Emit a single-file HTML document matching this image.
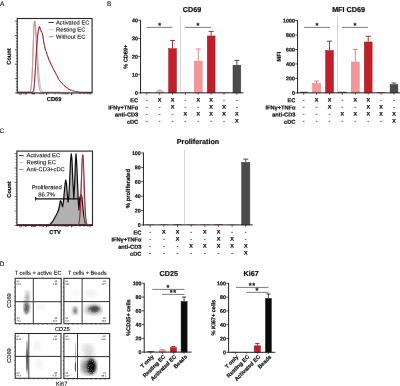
<!DOCTYPE html>
<html><head><meta charset="utf-8"><title>Figure</title>
<style>
html,body{margin:0;padding:0;background:#fff;}
body{width:400px;height:386px;overflow:hidden;}
svg{display:block;text-rendering:geometricPrecision;font-family:'Liberation Sans', sans-serif;}
.b{stroke:#141414;stroke-width:0.22px;}
.n{stroke:#141414;stroke-width:0.12px;}
</style></head><body>
<svg width="400" height="386" viewBox="0 0 400 386">
<rect width="400" height="386" fill="#fff"/>
<text x="0" y="5.9" font-size="6.4" fill="#141414" class="n" transform="rotate(0.03 0 5.9)">A</text>
<text x="107" y="5.9" font-size="6.4" fill="#141414" class="n" transform="rotate(0.03 107 5.9)">B</text>
<text x="-0.6" y="133.1" font-size="6.4" fill="#141414" class="n" transform="rotate(0.03 -0.6 133.1)">C</text>
<text x="-0.3" y="266" font-size="6.4" fill="#141414" class="n" transform="rotate(0.03 -0.3 266)">D</text>
<path d="M18,92.3 L28.02,92.3 L28.32,92.29 L28.62,92.28 L28.93,92.26 L29.23,92.22 L29.53,92.12 L29.83,91.95 L30.13,91.62 L30.43,91.05 L30.73,90.1 L31.03,88.59 L31.33,86.29 L31.63,82.98 L31.93,78.45 L32.23,72.59 L32.53,65.41 L32.83,57.16 L33.12,48.31 L33.42,39.53 L33.72,31.66 L34.02,25.52 L34.32,21.85 L34.62,21.05 L34.92,22.24 L35.22,24.94 L35.52,28.98 L35.82,34.1 L36.12,39.99 L36.42,46.33 L36.72,52.81 L37.02,59.12 L37.32,65.04 L37.62,70.41 L37.92,75.11 L38.22,79.1 L38.52,82.39 L38.82,85.02 L39.12,87.08 L39.42,88.63 L39.72,89.78 L40.02,90.61 L40.32,91.19 L40.62,91.59 L40.92,91.85 L41.22,92.03 L41.52,92.14 L41.82,92.2 L42.12,92.24 L42.42,92.27 L42.72,92.28 L43.02,92.29 L43.32,92.3 L60,92.3" fill="none" stroke="#7d7d7d" stroke-width="0.75" stroke-linejoin="round"/>
<path d="M18,92.3 L27.85,92.3 L28.15,92.29 L28.45,92.28 L28.75,92.26 L29.05,92.22 L29.35,92.14 L29.65,91.99 L29.95,91.71 L30.25,91.23 L30.55,90.43 L30.85,89.16 L31.15,87.22 L31.45,84.42 L31.75,80.54 L32.05,75.44 L32.35,69.09 L32.65,61.59 L32.95,53.26 L33.25,44.61 L33.55,36.34 L33.85,29.2 L34.15,23.95 L34.45,21.16 L34.75,20.92 L35.05,21.84 L35.35,23.66 L35.65,26.3 L35.95,29.66 L36.25,33.62 L36.55,38.04 L36.85,42.78 L37.15,47.69 L37.45,52.64 L37.75,57.5 L38.05,62.15 L38.35,66.53 L38.65,70.55 L38.95,74.19 L39.25,77.41 L39.55,80.22 L39.85,82.62 L40.15,84.65 L40.45,86.33 L40.75,87.7 L41.05,88.81 L41.35,89.68 L41.65,90.36 L41.95,90.88 L42.25,91.28 L42.55,91.57 L42.85,91.79 L43.15,91.94 L43.45,92.06 L43.75,92.14 L44.05,92.19 L44.35,92.23 L44.65,92.25 L44.95,92.27 L45.25,92.28 L45.55,92.29 L45.85,92.29 L46.15,92.3 L70,92.3" fill="none" stroke="#ea8a8e" stroke-width="0.8" stroke-linejoin="round"/>
<path d="M18,92.3 L32.5,92.3 L33.8,90.5 L34.7,80 L35.6,65 L36.6,48 L37.8,34 L39,27.3 L39.6,26.4 L40.3,29.5 L41,31 L41.6,32.2 L42.3,32.8 L42.9,36 L43.6,41 L44.4,45.5 L45,48 L45.5,50.5 L46.3,51.5 L47,54.5 L48,57 L49,60 L50,62 L51,64.5 L52,66 L53,68.3 L53.7,69.69 L54.5,71 L55.22,72.6 L56,74 L57.03,75.6 L58,78 L58.9,79.76 L60,81 L60.95,82.03 L62,83.4 L63.1,84.43 L64,85.5 L65.07,86.34 L66,87.2 L67.03,87.76 L68,88.6 L69.03,89.33 L70,89.8 L70.75,90.15 L71.53,90.22 L72.3,90.65 L73,90.9 L73.71,90.98 L74.57,91.29 L75.29,91.6 L76,91.7 L80,92.3 L92,92.3" fill="none" stroke="#c4333f" stroke-width="0.95" stroke-linejoin="round"/>
<path d="M18,92.3 L32.5,92.3 L33.8,90.5 L34.7,80 L35.6,65 L36.6,48 L37.8,34 L39,27.3 L39.6,26.4 L40.3,29.5 L41,31 L41.6,32.2 L42.3,32.8 L42.9,36 L43.6,41 L44.4,45.5 L45,48 L45.5,50.5 L46.3,51.5 L47,54.5 L48,57 L49,60 L50,62 L51,64.5 L52,66 L53,68.3 L53.7,69.69 L54.5,71 L55.22,72.6 L56,74 L57.03,75.6 L58,78 L58.9,79.76 L60,81 L60.95,82.03 L62,83.4 L63.1,84.43 L64,85.5 L65.07,86.34 L66,87.2 L67.03,87.76 L68,88.6 L69.03,89.33 L70,89.8 L70.75,90.15 L71.53,90.22 L72.3,90.65 L73,90.9 L73.71,90.98 L74.57,91.29 L75.29,91.6 L76,91.7 L80,92.3 L92,92.3" fill="none" stroke="#740d19" stroke-width="0.45" stroke-linejoin="round"/>
<rect x="17.25" y="18.5" width="74.85" height="74.45" fill="none" stroke="#2a2a2a" stroke-width="1.15"/>
<line x1="14.95" y1="92.95" x2="17.25" y2="92.95" stroke="#222" stroke-width="0.7"/>
<line x1="15.85" y1="90.08" x2="17.25" y2="90.08" stroke="#222" stroke-width="0.55"/>
<line x1="15.85" y1="87.21" x2="17.25" y2="87.21" stroke="#222" stroke-width="0.55"/>
<line x1="15.85" y1="84.34" x2="17.25" y2="84.34" stroke="#222" stroke-width="0.55"/>
<line x1="15.85" y1="81.47" x2="17.25" y2="81.47" stroke="#222" stroke-width="0.55"/>
<line x1="14.95" y1="78.6" x2="17.25" y2="78.6" stroke="#222" stroke-width="0.7"/>
<line x1="15.85" y1="75.73" x2="17.25" y2="75.73" stroke="#222" stroke-width="0.55"/>
<line x1="15.85" y1="72.86" x2="17.25" y2="72.86" stroke="#222" stroke-width="0.55"/>
<line x1="15.85" y1="69.99" x2="17.25" y2="69.99" stroke="#222" stroke-width="0.55"/>
<line x1="15.85" y1="67.12" x2="17.25" y2="67.12" stroke="#222" stroke-width="0.55"/>
<line x1="14.95" y1="64.25" x2="17.25" y2="64.25" stroke="#222" stroke-width="0.7"/>
<line x1="15.85" y1="61.38" x2="17.25" y2="61.38" stroke="#222" stroke-width="0.55"/>
<line x1="15.85" y1="58.51" x2="17.25" y2="58.51" stroke="#222" stroke-width="0.55"/>
<line x1="15.85" y1="55.64" x2="17.25" y2="55.64" stroke="#222" stroke-width="0.55"/>
<line x1="15.85" y1="52.77" x2="17.25" y2="52.77" stroke="#222" stroke-width="0.55"/>
<line x1="14.95" y1="49.9" x2="17.25" y2="49.9" stroke="#222" stroke-width="0.7"/>
<line x1="15.85" y1="47.03" x2="17.25" y2="47.03" stroke="#222" stroke-width="0.55"/>
<line x1="15.85" y1="44.16" x2="17.25" y2="44.16" stroke="#222" stroke-width="0.55"/>
<line x1="15.85" y1="41.29" x2="17.25" y2="41.29" stroke="#222" stroke-width="0.55"/>
<line x1="15.85" y1="38.42" x2="17.25" y2="38.42" stroke="#222" stroke-width="0.55"/>
<line x1="14.95" y1="35.55" x2="17.25" y2="35.55" stroke="#222" stroke-width="0.7"/>
<line x1="15.85" y1="32.68" x2="17.25" y2="32.68" stroke="#222" stroke-width="0.55"/>
<line x1="15.85" y1="29.81" x2="17.25" y2="29.81" stroke="#222" stroke-width="0.55"/>
<line x1="15.85" y1="26.94" x2="17.25" y2="26.94" stroke="#222" stroke-width="0.55"/>
<line x1="15.85" y1="24.07" x2="17.25" y2="24.07" stroke="#222" stroke-width="0.55"/>
<line x1="14.95" y1="21.2" x2="17.25" y2="21.2" stroke="#222" stroke-width="0.7"/>
<line x1="21.5" y1="92.95" x2="21.5" y2="94.45" stroke="#222" stroke-width="0.6"/>
<line x1="24" y1="92.95" x2="24" y2="94.45" stroke="#222" stroke-width="0.6"/>
<line x1="25.5" y1="92.95" x2="25.5" y2="94.45" stroke="#222" stroke-width="0.6"/>
<line x1="26.5" y1="92.95" x2="26.5" y2="94.45" stroke="#222" stroke-width="0.6"/>
<line x1="40" y1="92.95" x2="40" y2="94.45" stroke="#222" stroke-width="0.6"/>
<line x1="42" y1="92.95" x2="42" y2="94.45" stroke="#222" stroke-width="0.6"/>
<line x1="43.5" y1="92.95" x2="43.5" y2="94.45" stroke="#222" stroke-width="0.6"/>
<line x1="48" y1="92.95" x2="48" y2="94.45" stroke="#222" stroke-width="0.6"/>
<line x1="55" y1="92.95" x2="55" y2="94.45" stroke="#222" stroke-width="0.6"/>
<line x1="59" y1="92.95" x2="59" y2="94.45" stroke="#222" stroke-width="0.6"/>
<line x1="62" y1="92.95" x2="62" y2="94.45" stroke="#222" stroke-width="0.6"/>
<line x1="64" y1="92.95" x2="64" y2="94.45" stroke="#222" stroke-width="0.6"/>
<line x1="65.5" y1="92.95" x2="65.5" y2="94.45" stroke="#222" stroke-width="0.6"/>
<line x1="67" y1="92.95" x2="67" y2="94.45" stroke="#222" stroke-width="0.6"/>
<line x1="68" y1="92.95" x2="68" y2="94.45" stroke="#222" stroke-width="0.6"/>
<line x1="73" y1="92.95" x2="73" y2="94.45" stroke="#222" stroke-width="0.6"/>
<line x1="80" y1="92.95" x2="80" y2="94.45" stroke="#222" stroke-width="0.6"/>
<line x1="84" y1="92.95" x2="84" y2="94.45" stroke="#222" stroke-width="0.6"/>
<line x1="87" y1="92.95" x2="87" y2="94.45" stroke="#222" stroke-width="0.6"/>
<line x1="89" y1="92.95" x2="89" y2="94.45" stroke="#222" stroke-width="0.6"/>
<line x1="90.5" y1="92.95" x2="90.5" y2="94.45" stroke="#222" stroke-width="0.6"/>
<line x1="20" y1="92.95" x2="20" y2="94.95" stroke="#222" stroke-width="0.8"/>
<line x1="46.5" y1="92.95" x2="46.5" y2="94.95" stroke="#222" stroke-width="0.8"/>
<line x1="71.5" y1="92.95" x2="71.5" y2="94.95" stroke="#222" stroke-width="0.8"/>
<line x1="31.5" y1="93.7" x2="35" y2="93.7" stroke="#222" stroke-width="1.1"/>
<line x1="48.6" y1="22.5" x2="53.8" y2="22.5" stroke="#c0303c" stroke-width="1.0"/>
<line x1="48.8" y1="22.5" x2="53.6" y2="22.5" stroke="#6e0c18" stroke-width="0.6"/>
<text x="56" y="24.5" font-size="5.8" fill="#141414" class="n" transform="rotate(0.03 56 24.5)">Activated EC</text>
<line x1="48.8" y1="29.6" x2="53.6" y2="29.6" stroke="#eda0a3" stroke-width="0.7"/>
<text x="56" y="31.6" font-size="5.8" fill="#141414" class="n" transform="rotate(0.03 56 31.6)">Resting EC</text>
<line x1="48.8" y1="36.7" x2="53.6" y2="36.7" stroke="#666" stroke-width="0.7"/>
<text x="56" y="38.7" font-size="5.8" fill="#141414" class="n" transform="rotate(0.03 56 38.7)">Without EC</text>
<text x="46.8" y="101.1" font-size="5.7" font-weight="bold" fill="#141414" class="b" transform="rotate(0.03 46.8 101.1)">CD69</text>
<text x="10.8" y="56.5" font-size="5.7" font-weight="bold" text-anchor="middle" fill="#141414" class="b" transform="rotate(-89.97 10.8 56.5)">Count</text>
<line x1="180.5" y1="16.5" x2="180.5" y2="92.85" stroke="#d0d0d0" stroke-width="0.9"/>
<rect x="142.65" y="92.49" width="8.3" height="0.36" fill="#4b4b4d"/>
<line x1="159.67" y1="91.4" x2="159.67" y2="90.31" stroke="#e7777e" stroke-width="0.9"/>
<line x1="157.17" y1="90.31" x2="162.17" y2="90.31" stroke="#e7777e" stroke-width="0.9"/>
<rect x="155.52" y="91.4" width="8.3" height="1.45" fill="#f3979b"/>
<line x1="172.54" y1="48.41" x2="172.54" y2="40.43" stroke="#a5151e" stroke-width="0.9"/>
<line x1="170.04" y1="40.43" x2="175.04" y2="40.43" stroke="#a5151e" stroke-width="0.9"/>
<rect x="168.64" y="48.66" width="7.8" height="44.19" fill="#c1202a" stroke="#a5151e" stroke-width="0.5"/>
<rect x="181.26" y="92.49" width="8.3" height="0.36" fill="#4b4b4d"/>
<line x1="198.28" y1="60.93" x2="198.28" y2="48.96" stroke="#e7777e" stroke-width="0.9"/>
<line x1="195.78" y1="48.96" x2="200.78" y2="48.96" stroke="#e7777e" stroke-width="0.9"/>
<rect x="194.38" y="61.18" width="7.8" height="31.67" fill="#f3979b" stroke="#e7777e" stroke-width="0.5"/>
<line x1="211.15" y1="35.72" x2="211.15" y2="31.36" stroke="#a5151e" stroke-width="0.9"/>
<line x1="208.65" y1="31.36" x2="213.65" y2="31.36" stroke="#a5151e" stroke-width="0.9"/>
<rect x="207.25" y="35.97" width="7.8" height="56.88" fill="#c1202a" stroke="#a5151e" stroke-width="0.5"/>
<rect x="219.87" y="92.4" width="8.3" height="0.45" fill="#c1202a"/>
<line x1="236.89" y1="64.92" x2="236.89" y2="60.38" stroke="#3a3a3c" stroke-width="0.9"/>
<line x1="234.39" y1="60.38" x2="239.39" y2="60.38" stroke="#3a3a3c" stroke-width="0.9"/>
<rect x="232.99" y="65.17" width="7.8" height="27.68" fill="#4b4b4d" stroke="#3a3a3c" stroke-width="0.5"/>
<line x1="140.55" y1="19.9" x2="140.55" y2="93.35" stroke="#222" stroke-width="1.0"/>
<line x1="140.05" y1="92.85" x2="243.5" y2="92.85" stroke="#222" stroke-width="1.0"/>
<line x1="138.35" y1="92.85" x2="140.55" y2="92.85" stroke="#222" stroke-width="0.8"/>
<text x="137.85" y="94.8" font-size="5.3" font-weight="bold" text-anchor="end" fill="#141414" class="b" transform="rotate(0.03 137.85 94.8)">0</text>
<line x1="138.35" y1="74.71" x2="140.55" y2="74.71" stroke="#222" stroke-width="0.8"/>
<text x="137.85" y="76.66" font-size="5.3" font-weight="bold" text-anchor="end" fill="#141414" class="b" transform="rotate(0.03 137.85 76.66)">10</text>
<line x1="138.35" y1="56.57" x2="140.55" y2="56.57" stroke="#222" stroke-width="0.8"/>
<text x="137.85" y="58.52" font-size="5.3" font-weight="bold" text-anchor="end" fill="#141414" class="b" transform="rotate(0.03 137.85 58.52)">20</text>
<line x1="138.35" y1="38.44" x2="140.55" y2="38.44" stroke="#222" stroke-width="0.8"/>
<text x="137.85" y="40.39" font-size="5.3" font-weight="bold" text-anchor="end" fill="#141414" class="b" transform="rotate(0.03 137.85 40.39)">30</text>
<line x1="138.35" y1="20.3" x2="140.55" y2="20.3" stroke="#222" stroke-width="0.8"/>
<text x="137.85" y="22.25" font-size="5.3" font-weight="bold" text-anchor="end" fill="#141414" class="b" transform="rotate(0.03 137.85 22.25)">40</text>
<line x1="146.8" y1="92.85" x2="146.8" y2="94.75" stroke="#222" stroke-width="0.7"/>
<line x1="159.67" y1="92.85" x2="159.67" y2="94.75" stroke="#222" stroke-width="0.7"/>
<line x1="172.54" y1="92.85" x2="172.54" y2="94.75" stroke="#222" stroke-width="0.7"/>
<line x1="185.41" y1="92.85" x2="185.41" y2="94.75" stroke="#222" stroke-width="0.7"/>
<line x1="198.28" y1="92.85" x2="198.28" y2="94.75" stroke="#222" stroke-width="0.7"/>
<line x1="211.15" y1="92.85" x2="211.15" y2="94.75" stroke="#222" stroke-width="0.7"/>
<line x1="224.02" y1="92.85" x2="224.02" y2="94.75" stroke="#222" stroke-width="0.7"/>
<line x1="236.89" y1="92.85" x2="236.89" y2="94.75" stroke="#222" stroke-width="0.7"/>
<text x="138.2" y="102.35" font-size="5.65" font-weight="bold" text-anchor="end" fill="#141414" class="b" transform="rotate(0.03 138.2 102.35)">EC</text>
<line x1="146" y1="100.35" x2="147.6" y2="100.35" stroke="#222" stroke-width="0.7"/>
<text x="159.67" y="101.65" font-size="5.4" font-weight="bold" text-anchor="middle" fill="#141414" class="b" transform="rotate(0.03 159.67 101.65)">X</text>
<text x="172.54" y="101.65" font-size="5.4" font-weight="bold" text-anchor="middle" fill="#141414" class="b" transform="rotate(0.03 172.54 101.65)">X</text>
<line x1="184.61" y1="100.35" x2="186.21" y2="100.35" stroke="#222" stroke-width="0.7"/>
<text x="198.28" y="101.65" font-size="5.4" font-weight="bold" text-anchor="middle" fill="#141414" class="b" transform="rotate(0.03 198.28 101.65)">X</text>
<text x="211.15" y="101.65" font-size="5.4" font-weight="bold" text-anchor="middle" fill="#141414" class="b" transform="rotate(0.03 211.15 101.65)">X</text>
<line x1="223.22" y1="100.35" x2="224.82" y2="100.35" stroke="#222" stroke-width="0.7"/>
<line x1="236.09" y1="100.35" x2="237.69" y2="100.35" stroke="#222" stroke-width="0.7"/>
<text x="138.2" y="109.45" font-size="5.65" font-weight="bold" text-anchor="end" fill="#141414" class="b" transform="rotate(0.03 138.2 109.45)">IFNγ+TNFα</text>
<line x1="146" y1="107.35" x2="147.6" y2="107.35" stroke="#222" stroke-width="0.7"/>
<line x1="158.87" y1="107.35" x2="160.47" y2="107.35" stroke="#222" stroke-width="0.7"/>
<text x="172.54" y="108.65" font-size="5.4" font-weight="bold" text-anchor="middle" fill="#141414" class="b" transform="rotate(0.03 172.54 108.65)">X</text>
<line x1="184.61" y1="107.35" x2="186.21" y2="107.35" stroke="#222" stroke-width="0.7"/>
<line x1="197.48" y1="107.35" x2="199.08" y2="107.35" stroke="#222" stroke-width="0.7"/>
<text x="211.15" y="108.65" font-size="5.4" font-weight="bold" text-anchor="middle" fill="#141414" class="b" transform="rotate(0.03 211.15 108.65)">X</text>
<text x="224.02" y="108.65" font-size="5.4" font-weight="bold" text-anchor="middle" fill="#141414" class="b" transform="rotate(0.03 224.02 108.65)">X</text>
<line x1="236.09" y1="107.35" x2="237.69" y2="107.35" stroke="#222" stroke-width="0.7"/>
<text x="138.2" y="116.55" font-size="5.65" font-weight="bold" text-anchor="end" fill="#141414" class="b" transform="rotate(0.03 138.2 116.55)">anti-CD3</text>
<line x1="146" y1="114.35" x2="147.6" y2="114.35" stroke="#222" stroke-width="0.7"/>
<line x1="158.87" y1="114.35" x2="160.47" y2="114.35" stroke="#222" stroke-width="0.7"/>
<line x1="171.74" y1="114.35" x2="173.34" y2="114.35" stroke="#222" stroke-width="0.7"/>
<text x="185.41" y="115.65" font-size="5.4" font-weight="bold" text-anchor="middle" fill="#141414" class="b" transform="rotate(0.03 185.41 115.65)">X</text>
<text x="198.28" y="115.65" font-size="5.4" font-weight="bold" text-anchor="middle" fill="#141414" class="b" transform="rotate(0.03 198.28 115.65)">X</text>
<text x="211.15" y="115.65" font-size="5.4" font-weight="bold" text-anchor="middle" fill="#141414" class="b" transform="rotate(0.03 211.15 115.65)">X</text>
<text x="224.02" y="115.65" font-size="5.4" font-weight="bold" text-anchor="middle" fill="#141414" class="b" transform="rotate(0.03 224.02 115.65)">X</text>
<text x="236.89" y="115.65" font-size="5.4" font-weight="bold" text-anchor="middle" fill="#141414" class="b" transform="rotate(0.03 236.89 115.65)">X</text>
<text x="138.2" y="123.65" font-size="5.65" font-weight="bold" text-anchor="end" fill="#141414" class="b" transform="rotate(0.03 138.2 123.65)">cDC</text>
<line x1="146" y1="121.35" x2="147.6" y2="121.35" stroke="#222" stroke-width="0.7"/>
<line x1="158.87" y1="121.35" x2="160.47" y2="121.35" stroke="#222" stroke-width="0.7"/>
<line x1="171.74" y1="121.35" x2="173.34" y2="121.35" stroke="#222" stroke-width="0.7"/>
<line x1="184.61" y1="121.35" x2="186.21" y2="121.35" stroke="#222" stroke-width="0.7"/>
<line x1="197.48" y1="121.35" x2="199.08" y2="121.35" stroke="#222" stroke-width="0.7"/>
<line x1="210.35" y1="121.35" x2="211.95" y2="121.35" stroke="#222" stroke-width="0.7"/>
<line x1="223.22" y1="121.35" x2="224.82" y2="121.35" stroke="#222" stroke-width="0.7"/>
<text x="236.89" y="122.65" font-size="5.4" font-weight="bold" text-anchor="middle" fill="#141414" class="b" transform="rotate(0.03 236.89 122.65)">X</text>
<text x="192" y="11.9" font-size="7.2" font-weight="bold" text-anchor="middle" fill="#141414" class="b" transform="rotate(0.03 192 11.9)">CD69</text>
<text x="127.6" y="56.7" font-size="5.6" font-weight="bold" text-anchor="middle" fill="#141414" class="b" transform="rotate(-89.97 127.6 56.7)">% CD69+</text>
<line x1="146.5" y1="27.4" x2="172.4" y2="27.4" stroke="#444" stroke-width="0.7"/>
<text x="159.6" y="28.1" font-size="7.4" font-weight="bold" text-anchor="middle" fill="#1a1a1a" class="b" transform="rotate(0.03 159.6 28.1)">*</text>
<line x1="184.8" y1="27.4" x2="211" y2="27.4" stroke="#444" stroke-width="0.7"/>
<text x="197.9" y="28.1" font-size="7.4" font-weight="bold" text-anchor="middle" fill="#1a1a1a" class="b" transform="rotate(0.03 197.9 28.1)">*</text>
<line x1="337.5" y1="16.5" x2="337.5" y2="92.85" stroke="#d0d0d0" stroke-width="0.9"/>
<rect x="299.55" y="91.77" width="8.3" height="1.08" fill="#4b4b4d"/>
<line x1="316.6" y1="83.31" x2="316.6" y2="81" stroke="#e7777e" stroke-width="0.9"/>
<line x1="314.1" y1="81" x2="319.1" y2="81" stroke="#e7777e" stroke-width="0.9"/>
<rect x="312.7" y="83.56" width="7.8" height="9.29" fill="#f3979b" stroke="#e7777e" stroke-width="0.5"/>
<line x1="329.5" y1="50.22" x2="329.5" y2="41.19" stroke="#a5151e" stroke-width="0.9"/>
<line x1="327" y1="41.19" x2="332" y2="41.19" stroke="#a5151e" stroke-width="0.9"/>
<rect x="325.6" y="50.47" width="7.8" height="42.38" fill="#c1202a" stroke="#a5151e" stroke-width="0.5"/>
<rect x="338.25" y="91.77" width="8.3" height="1.08" fill="#4b4b4d"/>
<line x1="355.3" y1="61.78" x2="355.3" y2="49.5" stroke="#e7777e" stroke-width="0.9"/>
<line x1="352.8" y1="49.5" x2="357.8" y2="49.5" stroke="#e7777e" stroke-width="0.9"/>
<rect x="351.4" y="62.03" width="7.8" height="30.82" fill="#f3979b" stroke="#e7777e" stroke-width="0.5"/>
<line x1="368.2" y1="41.7" x2="368.2" y2="36.28" stroke="#a5151e" stroke-width="0.9"/>
<line x1="365.7" y1="36.28" x2="370.7" y2="36.28" stroke="#a5151e" stroke-width="0.9"/>
<rect x="364.3" y="41.95" width="7.8" height="50.9" fill="#c1202a" stroke="#a5151e" stroke-width="0.5"/>
<rect x="376.95" y="92.13" width="8.3" height="0.72" fill="#c1202a"/>
<line x1="394" y1="84.32" x2="394" y2="83.02" stroke="#3a3a3c" stroke-width="0.9"/>
<line x1="391.5" y1="83.02" x2="396.5" y2="83.02" stroke="#3a3a3c" stroke-width="0.9"/>
<rect x="390.1" y="84.57" width="7.8" height="8.28" fill="#4b4b4d" stroke="#3a3a3c" stroke-width="0.5"/>
<line x1="297.55" y1="20.2" x2="297.55" y2="93.35" stroke="#222" stroke-width="1.0"/>
<line x1="297.05" y1="92.85" x2="400.5" y2="92.85" stroke="#222" stroke-width="1.0"/>
<line x1="295.35" y1="92.85" x2="297.55" y2="92.85" stroke="#222" stroke-width="0.8"/>
<text x="294.85" y="94.8" font-size="5.3" font-weight="bold" text-anchor="end" fill="#141414" class="b" transform="rotate(0.03 294.85 94.8)">0</text>
<line x1="295.35" y1="78.4" x2="297.55" y2="78.4" stroke="#222" stroke-width="0.8"/>
<text x="294.85" y="80.35" font-size="5.3" font-weight="bold" text-anchor="end" fill="#141414" class="b" transform="rotate(0.03 294.85 80.35)">200</text>
<line x1="295.35" y1="63.95" x2="297.55" y2="63.95" stroke="#222" stroke-width="0.8"/>
<text x="294.85" y="65.9" font-size="5.3" font-weight="bold" text-anchor="end" fill="#141414" class="b" transform="rotate(0.03 294.85 65.9)">400</text>
<line x1="295.35" y1="49.5" x2="297.55" y2="49.5" stroke="#222" stroke-width="0.8"/>
<text x="294.85" y="51.45" font-size="5.3" font-weight="bold" text-anchor="end" fill="#141414" class="b" transform="rotate(0.03 294.85 51.45)">600</text>
<line x1="295.35" y1="35.05" x2="297.55" y2="35.05" stroke="#222" stroke-width="0.8"/>
<text x="294.85" y="37" font-size="5.3" font-weight="bold" text-anchor="end" fill="#141414" class="b" transform="rotate(0.03 294.85 37)">800</text>
<line x1="295.35" y1="20.6" x2="297.55" y2="20.6" stroke="#222" stroke-width="0.8"/>
<text x="294.85" y="22.55" font-size="5.3" font-weight="bold" text-anchor="end" fill="#141414" class="b" transform="rotate(0.03 294.85 22.55)">1000</text>
<line x1="303.7" y1="92.85" x2="303.7" y2="94.75" stroke="#222" stroke-width="0.7"/>
<line x1="316.6" y1="92.85" x2="316.6" y2="94.75" stroke="#222" stroke-width="0.7"/>
<line x1="329.5" y1="92.85" x2="329.5" y2="94.75" stroke="#222" stroke-width="0.7"/>
<line x1="342.4" y1="92.85" x2="342.4" y2="94.75" stroke="#222" stroke-width="0.7"/>
<line x1="355.3" y1="92.85" x2="355.3" y2="94.75" stroke="#222" stroke-width="0.7"/>
<line x1="368.2" y1="92.85" x2="368.2" y2="94.75" stroke="#222" stroke-width="0.7"/>
<line x1="381.1" y1="92.85" x2="381.1" y2="94.75" stroke="#222" stroke-width="0.7"/>
<line x1="394" y1="92.85" x2="394" y2="94.75" stroke="#222" stroke-width="0.7"/>
<text x="295.4" y="102.35" font-size="5.65" font-weight="bold" text-anchor="end" fill="#141414" class="b" transform="rotate(0.03 295.4 102.35)">EC</text>
<line x1="302.9" y1="100.35" x2="304.5" y2="100.35" stroke="#222" stroke-width="0.7"/>
<text x="316.6" y="101.65" font-size="5.4" font-weight="bold" text-anchor="middle" fill="#141414" class="b" transform="rotate(0.03 316.6 101.65)">X</text>
<text x="329.5" y="101.65" font-size="5.4" font-weight="bold" text-anchor="middle" fill="#141414" class="b" transform="rotate(0.03 329.5 101.65)">X</text>
<line x1="341.6" y1="100.35" x2="343.2" y2="100.35" stroke="#222" stroke-width="0.7"/>
<text x="355.3" y="101.65" font-size="5.4" font-weight="bold" text-anchor="middle" fill="#141414" class="b" transform="rotate(0.03 355.3 101.65)">X</text>
<text x="368.2" y="101.65" font-size="5.4" font-weight="bold" text-anchor="middle" fill="#141414" class="b" transform="rotate(0.03 368.2 101.65)">X</text>
<line x1="380.3" y1="100.35" x2="381.9" y2="100.35" stroke="#222" stroke-width="0.7"/>
<line x1="393.2" y1="100.35" x2="394.8" y2="100.35" stroke="#222" stroke-width="0.7"/>
<text x="295.4" y="109.45" font-size="5.65" font-weight="bold" text-anchor="end" fill="#141414" class="b" transform="rotate(0.03 295.4 109.45)">IFNγ+TNFα</text>
<line x1="302.9" y1="107.35" x2="304.5" y2="107.35" stroke="#222" stroke-width="0.7"/>
<line x1="315.8" y1="107.35" x2="317.4" y2="107.35" stroke="#222" stroke-width="0.7"/>
<text x="329.5" y="108.65" font-size="5.4" font-weight="bold" text-anchor="middle" fill="#141414" class="b" transform="rotate(0.03 329.5 108.65)">X</text>
<line x1="341.6" y1="107.35" x2="343.2" y2="107.35" stroke="#222" stroke-width="0.7"/>
<line x1="354.5" y1="107.35" x2="356.1" y2="107.35" stroke="#222" stroke-width="0.7"/>
<text x="368.2" y="108.65" font-size="5.4" font-weight="bold" text-anchor="middle" fill="#141414" class="b" transform="rotate(0.03 368.2 108.65)">X</text>
<text x="381.1" y="108.65" font-size="5.4" font-weight="bold" text-anchor="middle" fill="#141414" class="b" transform="rotate(0.03 381.1 108.65)">X</text>
<line x1="393.2" y1="107.35" x2="394.8" y2="107.35" stroke="#222" stroke-width="0.7"/>
<text x="295.4" y="116.55" font-size="5.65" font-weight="bold" text-anchor="end" fill="#141414" class="b" transform="rotate(0.03 295.4 116.55)">anti-CD3</text>
<line x1="302.9" y1="114.35" x2="304.5" y2="114.35" stroke="#222" stroke-width="0.7"/>
<line x1="315.8" y1="114.35" x2="317.4" y2="114.35" stroke="#222" stroke-width="0.7"/>
<line x1="328.7" y1="114.35" x2="330.3" y2="114.35" stroke="#222" stroke-width="0.7"/>
<text x="342.4" y="115.65" font-size="5.4" font-weight="bold" text-anchor="middle" fill="#141414" class="b" transform="rotate(0.03 342.4 115.65)">X</text>
<text x="355.3" y="115.65" font-size="5.4" font-weight="bold" text-anchor="middle" fill="#141414" class="b" transform="rotate(0.03 355.3 115.65)">X</text>
<text x="368.2" y="115.65" font-size="5.4" font-weight="bold" text-anchor="middle" fill="#141414" class="b" transform="rotate(0.03 368.2 115.65)">X</text>
<text x="381.1" y="115.65" font-size="5.4" font-weight="bold" text-anchor="middle" fill="#141414" class="b" transform="rotate(0.03 381.1 115.65)">X</text>
<text x="394" y="115.65" font-size="5.4" font-weight="bold" text-anchor="middle" fill="#141414" class="b" transform="rotate(0.03 394 115.65)">X</text>
<text x="295.4" y="123.65" font-size="5.65" font-weight="bold" text-anchor="end" fill="#141414" class="b" transform="rotate(0.03 295.4 123.65)">cDC</text>
<line x1="302.9" y1="121.35" x2="304.5" y2="121.35" stroke="#222" stroke-width="0.7"/>
<line x1="315.8" y1="121.35" x2="317.4" y2="121.35" stroke="#222" stroke-width="0.7"/>
<line x1="328.7" y1="121.35" x2="330.3" y2="121.35" stroke="#222" stroke-width="0.7"/>
<line x1="341.6" y1="121.35" x2="343.2" y2="121.35" stroke="#222" stroke-width="0.7"/>
<line x1="354.5" y1="121.35" x2="356.1" y2="121.35" stroke="#222" stroke-width="0.7"/>
<line x1="367.4" y1="121.35" x2="369" y2="121.35" stroke="#222" stroke-width="0.7"/>
<line x1="380.3" y1="121.35" x2="381.9" y2="121.35" stroke="#222" stroke-width="0.7"/>
<text x="394" y="122.65" font-size="5.4" font-weight="bold" text-anchor="middle" fill="#141414" class="b" transform="rotate(0.03 394 122.65)">X</text>
<text x="348.5" y="11.9" font-size="7.2" font-weight="bold" text-anchor="middle" fill="#141414" class="b" transform="rotate(0.03 348.5 11.9)">MFI CD69</text>
<text x="280.7" y="56.6" font-size="5.6" font-weight="bold" text-anchor="middle" fill="#141414" class="b" transform="rotate(-89.97 280.7 56.6)">MFI</text>
<line x1="304.2" y1="27.4" x2="330" y2="27.4" stroke="#444" stroke-width="0.7"/>
<text x="317" y="28.1" font-size="7.4" font-weight="bold" text-anchor="middle" fill="#1a1a1a" class="b" transform="rotate(0.03 317 28.1)">*</text>
<line x1="342" y1="27.4" x2="368" y2="27.4" stroke="#444" stroke-width="0.7"/>
<text x="355" y="28.1" font-size="7.4" font-weight="bold" text-anchor="middle" fill="#1a1a1a" class="b" transform="rotate(0.03 355 28.1)">*</text>
<line x1="184.5" y1="150" x2="184.5" y2="224.9" stroke="#d0d0d0" stroke-width="0.9"/>
<rect x="145.85" y="224.54" width="8.7" height="0.36" fill="#4b4b4d"/>
<rect x="159.5" y="224.47" width="8.7" height="0.43" fill="#c1202a"/>
<rect x="173.15" y="224.18" width="8.7" height="0.72" fill="#c1202a"/>
<rect x="186.8" y="224.54" width="8.7" height="0.36" fill="#4b4b4d"/>
<rect x="200.45" y="224.47" width="8.7" height="0.43" fill="#c1202a"/>
<rect x="214.1" y="224.18" width="8.7" height="0.72" fill="#c1202a"/>
<rect x="227.75" y="224.61" width="8.7" height="0.29" fill="#4b4b4d"/>
<line x1="245.75" y1="162.13" x2="245.75" y2="159.11" stroke="#3a3a3c" stroke-width="0.9"/>
<line x1="243.25" y1="159.11" x2="248.25" y2="159.11" stroke="#3a3a3c" stroke-width="0.9"/>
<rect x="241.65" y="162.38" width="8.2" height="62.52" fill="#4b4b4d" stroke="#3a3a3c" stroke-width="0.5"/>
<line x1="143.45" y1="152.6" x2="143.45" y2="225.4" stroke="#222" stroke-width="1.0"/>
<line x1="142.95" y1="224.9" x2="252.8" y2="224.9" stroke="#222" stroke-width="1.0"/>
<line x1="141.25" y1="224.9" x2="143.45" y2="224.9" stroke="#222" stroke-width="0.8"/>
<text x="140.75" y="226.85" font-size="5.3" font-weight="bold" text-anchor="end" fill="#141414" class="b" transform="rotate(0.03 140.75 226.85)">0</text>
<line x1="141.25" y1="210.52" x2="143.45" y2="210.52" stroke="#222" stroke-width="0.8"/>
<text x="140.75" y="212.47" font-size="5.3" font-weight="bold" text-anchor="end" fill="#141414" class="b" transform="rotate(0.03 140.75 212.47)">20</text>
<line x1="141.25" y1="196.14" x2="143.45" y2="196.14" stroke="#222" stroke-width="0.8"/>
<text x="140.75" y="198.09" font-size="5.3" font-weight="bold" text-anchor="end" fill="#141414" class="b" transform="rotate(0.03 140.75 198.09)">40</text>
<line x1="141.25" y1="181.76" x2="143.45" y2="181.76" stroke="#222" stroke-width="0.8"/>
<text x="140.75" y="183.71" font-size="5.3" font-weight="bold" text-anchor="end" fill="#141414" class="b" transform="rotate(0.03 140.75 183.71)">60</text>
<line x1="141.25" y1="167.38" x2="143.45" y2="167.38" stroke="#222" stroke-width="0.8"/>
<text x="140.75" y="169.33" font-size="5.3" font-weight="bold" text-anchor="end" fill="#141414" class="b" transform="rotate(0.03 140.75 169.33)">80</text>
<line x1="141.25" y1="153" x2="143.45" y2="153" stroke="#222" stroke-width="0.8"/>
<text x="140.75" y="154.95" font-size="5.3" font-weight="bold" text-anchor="end" fill="#141414" class="b" transform="rotate(0.03 140.75 154.95)">100</text>
<line x1="150.2" y1="224.9" x2="150.2" y2="226.8" stroke="#222" stroke-width="0.7"/>
<line x1="163.85" y1="224.9" x2="163.85" y2="226.8" stroke="#222" stroke-width="0.7"/>
<line x1="177.5" y1="224.9" x2="177.5" y2="226.8" stroke="#222" stroke-width="0.7"/>
<line x1="191.15" y1="224.9" x2="191.15" y2="226.8" stroke="#222" stroke-width="0.7"/>
<line x1="204.8" y1="224.9" x2="204.8" y2="226.8" stroke="#222" stroke-width="0.7"/>
<line x1="218.45" y1="224.9" x2="218.45" y2="226.8" stroke="#222" stroke-width="0.7"/>
<line x1="232.1" y1="224.9" x2="232.1" y2="226.8" stroke="#222" stroke-width="0.7"/>
<line x1="245.75" y1="224.9" x2="245.75" y2="226.8" stroke="#222" stroke-width="0.7"/>
<text x="141.4" y="234.5" font-size="5.65" font-weight="bold" text-anchor="end" fill="#141414" class="b" transform="rotate(0.03 141.4 234.5)">EC</text>
<line x1="149.4" y1="232.35" x2="151" y2="232.35" stroke="#222" stroke-width="0.7"/>
<text x="163.85" y="233.65" font-size="5.4" font-weight="bold" text-anchor="middle" fill="#141414" class="b" transform="rotate(0.03 163.85 233.65)">X</text>
<text x="177.5" y="233.65" font-size="5.4" font-weight="bold" text-anchor="middle" fill="#141414" class="b" transform="rotate(0.03 177.5 233.65)">X</text>
<line x1="190.35" y1="232.35" x2="191.95" y2="232.35" stroke="#222" stroke-width="0.7"/>
<text x="204.8" y="233.65" font-size="5.4" font-weight="bold" text-anchor="middle" fill="#141414" class="b" transform="rotate(0.03 204.8 233.65)">X</text>
<text x="218.45" y="233.65" font-size="5.4" font-weight="bold" text-anchor="middle" fill="#141414" class="b" transform="rotate(0.03 218.45 233.65)">X</text>
<line x1="231.3" y1="232.35" x2="232.9" y2="232.35" stroke="#222" stroke-width="0.7"/>
<line x1="244.95" y1="232.35" x2="246.55" y2="232.35" stroke="#222" stroke-width="0.7"/>
<text x="141.4" y="241.6" font-size="5.65" font-weight="bold" text-anchor="end" fill="#141414" class="b" transform="rotate(0.03 141.4 241.6)">IFNγ+TNFα</text>
<line x1="149.4" y1="239.4" x2="151" y2="239.4" stroke="#222" stroke-width="0.7"/>
<line x1="163.05" y1="239.4" x2="164.65" y2="239.4" stroke="#222" stroke-width="0.7"/>
<text x="177.5" y="240.7" font-size="5.4" font-weight="bold" text-anchor="middle" fill="#141414" class="b" transform="rotate(0.03 177.5 240.7)">X</text>
<line x1="190.35" y1="239.4" x2="191.95" y2="239.4" stroke="#222" stroke-width="0.7"/>
<line x1="204" y1="239.4" x2="205.6" y2="239.4" stroke="#222" stroke-width="0.7"/>
<text x="218.45" y="240.7" font-size="5.4" font-weight="bold" text-anchor="middle" fill="#141414" class="b" transform="rotate(0.03 218.45 240.7)">X</text>
<text x="232.1" y="240.7" font-size="5.4" font-weight="bold" text-anchor="middle" fill="#141414" class="b" transform="rotate(0.03 232.1 240.7)">X</text>
<line x1="244.95" y1="239.4" x2="246.55" y2="239.4" stroke="#222" stroke-width="0.7"/>
<text x="141.4" y="248.7" font-size="5.65" font-weight="bold" text-anchor="end" fill="#141414" class="b" transform="rotate(0.03 141.4 248.7)">anti-CD3</text>
<line x1="149.4" y1="246.45" x2="151" y2="246.45" stroke="#222" stroke-width="0.7"/>
<line x1="163.05" y1="246.45" x2="164.65" y2="246.45" stroke="#222" stroke-width="0.7"/>
<line x1="176.7" y1="246.45" x2="178.3" y2="246.45" stroke="#222" stroke-width="0.7"/>
<text x="191.15" y="247.75" font-size="5.4" font-weight="bold" text-anchor="middle" fill="#141414" class="b" transform="rotate(0.03 191.15 247.75)">X</text>
<text x="204.8" y="247.75" font-size="5.4" font-weight="bold" text-anchor="middle" fill="#141414" class="b" transform="rotate(0.03 204.8 247.75)">X</text>
<text x="218.45" y="247.75" font-size="5.4" font-weight="bold" text-anchor="middle" fill="#141414" class="b" transform="rotate(0.03 218.45 247.75)">X</text>
<text x="232.1" y="247.75" font-size="5.4" font-weight="bold" text-anchor="middle" fill="#141414" class="b" transform="rotate(0.03 232.1 247.75)">X</text>
<text x="245.75" y="247.75" font-size="5.4" font-weight="bold" text-anchor="middle" fill="#141414" class="b" transform="rotate(0.03 245.75 247.75)">X</text>
<text x="141.4" y="255.8" font-size="5.65" font-weight="bold" text-anchor="end" fill="#141414" class="b" transform="rotate(0.03 141.4 255.8)">cDC</text>
<line x1="149.4" y1="253.5" x2="151" y2="253.5" stroke="#222" stroke-width="0.7"/>
<line x1="163.05" y1="253.5" x2="164.65" y2="253.5" stroke="#222" stroke-width="0.7"/>
<line x1="176.7" y1="253.5" x2="178.3" y2="253.5" stroke="#222" stroke-width="0.7"/>
<line x1="190.35" y1="253.5" x2="191.95" y2="253.5" stroke="#222" stroke-width="0.7"/>
<line x1="204" y1="253.5" x2="205.6" y2="253.5" stroke="#222" stroke-width="0.7"/>
<line x1="217.65" y1="253.5" x2="219.25" y2="253.5" stroke="#222" stroke-width="0.7"/>
<line x1="231.3" y1="253.5" x2="232.9" y2="253.5" stroke="#222" stroke-width="0.7"/>
<text x="245.75" y="254.8" font-size="5.4" font-weight="bold" text-anchor="middle" fill="#141414" class="b" transform="rotate(0.03 245.75 254.8)">X</text>
<text x="198" y="143.9" font-size="7.2" font-weight="bold" text-anchor="middle" fill="#141414" class="b" transform="rotate(0.03 198 143.9)">Proliferation</text>
<text x="129.9" y="188.6" font-size="5.88" font-weight="bold" text-anchor="middle" fill="#141414" class="b" transform="rotate(-89.97 129.9 188.6)">% proliferated</text>
<path d="M17.5,224.9 L47.5,224.9 L50,224.4 L52,222.3 L53.5,220 L54.7,217.8 L56,215.5 L57.3,213 L58.5,210.3 L59.3,207 L60,202.5 L60.6,200.6 L61.3,202 L62,205.5 L62.6,206.8 L63.3,203 L64.3,192 L65.2,183 L65.8,180 L66.4,183 L67.2,193 L68.1,202 L68.9,196 L69.8,178 L70.6,160 L71.3,153.8 L72,160 L72.8,180 L73.8,198.8 L74.6,185 L75.3,165 L76,153.8 L76.8,165 L77.6,185 L78.5,205 L79,210 L79.7,200 L80.5,195.3 L81.2,194.6 L81.9,197 L82.7,205 L83.6,214 L84.6,220.5 L85.6,224 L86.6,224.9 L92,224.9 Z" fill="#b1b1b1" stroke="#111" stroke-width="1.25" stroke-linejoin="round"/>
<path d="M76,224.9 L77.12,224.9 L77.42,224.89 L77.72,224.88 L78.02,224.83 L78.32,224.73 L78.62,224.49 L78.92,224 L79.22,223.03 L79.52,221.26 L79.82,218.3 L80.12,213.71 L80.42,207.19 L80.72,198.71 L81.02,188.72 L81.32,178.2 L81.62,168.59 L81.92,161.46 L82.22,158.14 L82.52,159.27 L82.82,164.62 L83.12,173.18 L83.42,183.44 L83.72,193.85 L84.02,203.18 L84.32,210.71 L84.62,216.23 L84.92,219.96 L85.22,222.27 L85.52,223.59 L85.82,224.29 L86.12,224.64 L86.42,224.79 L86.72,224.86 L87.02,224.89 L87.32,224.9 L90,224.9" fill="none" stroke="#a9a0a1" stroke-width="0.7" stroke-linejoin="round"/>
<path d="M17.5,224.9 L76.36,224.9 L76.66,224.89 L76.96,224.88 L77.26,224.86 L77.56,224.81 L77.86,224.71 L78.16,224.52 L78.46,224.17 L78.76,223.54 L79.06,222.5 L79.36,220.83 L79.66,218.31 L79.96,214.7 L80.26,209.79 L80.56,203.5 L80.86,195.91 L81.16,187.34 L81.46,178.37 L81.76,169.77 L82.06,162.43 L82.36,157.2 L82.66,154.74 L82.96,155.36 L83.26,158.99 L83.56,165.16 L83.86,173.11 L84.16,181.96 L84.46,190.85 L84.76,199.08 L85.06,206.18 L85.36,211.92 L85.66,216.29 L85.96,219.44 L86.26,221.59 L86.56,222.98 L86.86,223.83 L87.16,224.33 L87.46,224.61 L87.76,224.76 L88.06,224.84 L88.36,224.87 L88.66,224.89 L88.96,224.9 L92,224.9" fill="none" stroke="#c4333f" stroke-width="0.95" stroke-linejoin="round"/>
<path d="M17.5,224.9 L76.36,224.9 L76.66,224.89 L76.96,224.88 L77.26,224.86 L77.56,224.81 L77.86,224.71 L78.16,224.52 L78.46,224.17 L78.76,223.54 L79.06,222.5 L79.36,220.83 L79.66,218.31 L79.96,214.7 L80.26,209.79 L80.56,203.5 L80.86,195.91 L81.16,187.34 L81.46,178.37 L81.76,169.77 L82.06,162.43 L82.36,157.2 L82.66,154.74 L82.96,155.36 L83.26,158.99 L83.56,165.16 L83.86,173.11 L84.16,181.96 L84.46,190.85 L84.76,199.08 L85.06,206.18 L85.36,211.92 L85.66,216.29 L85.96,219.44 L86.26,221.59 L86.56,222.98 L86.86,223.83 L87.16,224.33 L87.46,224.61 L87.76,224.76 L88.06,224.84 L88.36,224.87 L88.66,224.89 L88.96,224.9 L92,224.9" fill="none" stroke="#7a0e1a" stroke-width="0.45" stroke-linejoin="round"/>
<rect x="16.9" y="151.1" width="75.6" height="74.3" fill="none" stroke="#2a2a2a" stroke-width="1.15"/>
<line x1="14.6" y1="225.4" x2="16.9" y2="225.4" stroke="#222" stroke-width="0.7"/>
<line x1="15.5" y1="222.53" x2="16.9" y2="222.53" stroke="#222" stroke-width="0.55"/>
<line x1="15.5" y1="219.66" x2="16.9" y2="219.66" stroke="#222" stroke-width="0.55"/>
<line x1="15.5" y1="216.79" x2="16.9" y2="216.79" stroke="#222" stroke-width="0.55"/>
<line x1="15.5" y1="213.92" x2="16.9" y2="213.92" stroke="#222" stroke-width="0.55"/>
<line x1="14.6" y1="211.05" x2="16.9" y2="211.05" stroke="#222" stroke-width="0.7"/>
<line x1="15.5" y1="208.18" x2="16.9" y2="208.18" stroke="#222" stroke-width="0.55"/>
<line x1="15.5" y1="205.31" x2="16.9" y2="205.31" stroke="#222" stroke-width="0.55"/>
<line x1="15.5" y1="202.44" x2="16.9" y2="202.44" stroke="#222" stroke-width="0.55"/>
<line x1="15.5" y1="199.57" x2="16.9" y2="199.57" stroke="#222" stroke-width="0.55"/>
<line x1="14.6" y1="196.7" x2="16.9" y2="196.7" stroke="#222" stroke-width="0.7"/>
<line x1="15.5" y1="193.83" x2="16.9" y2="193.83" stroke="#222" stroke-width="0.55"/>
<line x1="15.5" y1="190.96" x2="16.9" y2="190.96" stroke="#222" stroke-width="0.55"/>
<line x1="15.5" y1="188.09" x2="16.9" y2="188.09" stroke="#222" stroke-width="0.55"/>
<line x1="15.5" y1="185.22" x2="16.9" y2="185.22" stroke="#222" stroke-width="0.55"/>
<line x1="14.6" y1="182.35" x2="16.9" y2="182.35" stroke="#222" stroke-width="0.7"/>
<line x1="15.5" y1="179.48" x2="16.9" y2="179.48" stroke="#222" stroke-width="0.55"/>
<line x1="15.5" y1="176.61" x2="16.9" y2="176.61" stroke="#222" stroke-width="0.55"/>
<line x1="15.5" y1="173.74" x2="16.9" y2="173.74" stroke="#222" stroke-width="0.55"/>
<line x1="15.5" y1="170.87" x2="16.9" y2="170.87" stroke="#222" stroke-width="0.55"/>
<line x1="14.6" y1="168" x2="16.9" y2="168" stroke="#222" stroke-width="0.7"/>
<line x1="15.5" y1="165.13" x2="16.9" y2="165.13" stroke="#222" stroke-width="0.55"/>
<line x1="15.5" y1="162.26" x2="16.9" y2="162.26" stroke="#222" stroke-width="0.55"/>
<line x1="15.5" y1="159.39" x2="16.9" y2="159.39" stroke="#222" stroke-width="0.55"/>
<line x1="15.5" y1="156.52" x2="16.9" y2="156.52" stroke="#222" stroke-width="0.55"/>
<line x1="14.6" y1="153.65" x2="16.9" y2="153.65" stroke="#222" stroke-width="0.7"/>
<line x1="21.5" y1="225.4" x2="21.5" y2="226.9" stroke="#222" stroke-width="0.6"/>
<line x1="24" y1="225.4" x2="24" y2="226.9" stroke="#222" stroke-width="0.6"/>
<line x1="25.5" y1="225.4" x2="25.5" y2="226.9" stroke="#222" stroke-width="0.6"/>
<line x1="26.5" y1="225.4" x2="26.5" y2="226.9" stroke="#222" stroke-width="0.6"/>
<line x1="40" y1="225.4" x2="40" y2="226.9" stroke="#222" stroke-width="0.6"/>
<line x1="42" y1="225.4" x2="42" y2="226.9" stroke="#222" stroke-width="0.6"/>
<line x1="43.5" y1="225.4" x2="43.5" y2="226.9" stroke="#222" stroke-width="0.6"/>
<line x1="48" y1="225.4" x2="48" y2="226.9" stroke="#222" stroke-width="0.6"/>
<line x1="55" y1="225.4" x2="55" y2="226.9" stroke="#222" stroke-width="0.6"/>
<line x1="59" y1="225.4" x2="59" y2="226.9" stroke="#222" stroke-width="0.6"/>
<line x1="62" y1="225.4" x2="62" y2="226.9" stroke="#222" stroke-width="0.6"/>
<line x1="64" y1="225.4" x2="64" y2="226.9" stroke="#222" stroke-width="0.6"/>
<line x1="65.5" y1="225.4" x2="65.5" y2="226.9" stroke="#222" stroke-width="0.6"/>
<line x1="67" y1="225.4" x2="67" y2="226.9" stroke="#222" stroke-width="0.6"/>
<line x1="68" y1="225.4" x2="68" y2="226.9" stroke="#222" stroke-width="0.6"/>
<line x1="73" y1="225.4" x2="73" y2="226.9" stroke="#222" stroke-width="0.6"/>
<line x1="80" y1="225.4" x2="80" y2="226.9" stroke="#222" stroke-width="0.6"/>
<line x1="84" y1="225.4" x2="84" y2="226.9" stroke="#222" stroke-width="0.6"/>
<line x1="87" y1="225.4" x2="87" y2="226.9" stroke="#222" stroke-width="0.6"/>
<line x1="89" y1="225.4" x2="89" y2="226.9" stroke="#222" stroke-width="0.6"/>
<line x1="90.5" y1="225.4" x2="90.5" y2="226.9" stroke="#222" stroke-width="0.6"/>
<line x1="20" y1="225.4" x2="20" y2="227.4" stroke="#222" stroke-width="0.8"/>
<line x1="46.5" y1="225.4" x2="46.5" y2="227.4" stroke="#222" stroke-width="0.8"/>
<line x1="71.5" y1="225.4" x2="71.5" y2="227.4" stroke="#222" stroke-width="0.8"/>
<line x1="31" y1="226.1" x2="36" y2="226.1" stroke="#222" stroke-width="1.0"/>
<line x1="19" y1="155.5" x2="23.6" y2="155.5" stroke="#c0303c" stroke-width="1.0"/>
<line x1="19.2" y1="155.5" x2="23.4" y2="155.5" stroke="#6e0c18" stroke-width="0.6"/>
<text x="26.6" y="157.3" font-size="5.8" fill="#141414" class="n" transform="rotate(0.03 26.6 157.3)">Activated EC</text>
<line x1="19.2" y1="162.45" x2="23.4" y2="162.45" stroke="#b5b5b5" stroke-width="0.8"/>
<text x="26.6" y="164.25" font-size="5.8" fill="#141414" class="n" transform="rotate(0.03 26.6 164.25)">Resting EC</text>
<line x1="19.2" y1="169.4" x2="23.4" y2="169.4" stroke="#666" stroke-width="0.8"/>
<text x="26.6" y="171.2" font-size="5.8" fill="#141414" class="n" transform="rotate(0.03 26.6 171.2)">Anti-CD3+cDC</text>
<text x="46.7" y="189.2" font-size="5.9" text-anchor="middle" fill="#141414" class="n" transform="rotate(0.03 46.7 189.2)">Proliferated</text>
<text x="46.7" y="196.4" font-size="5.9" text-anchor="middle" fill="#141414" class="n" transform="rotate(0.03 46.7 196.4)">86.7%</text>
<line x1="35.6" y1="198.8" x2="80" y2="198.8" stroke="#111" stroke-width="1.3"/>
<line x1="35.6" y1="197.1" x2="35.6" y2="200.5" stroke="#111" stroke-width="1.0"/>
<line x1="80" y1="197.1" x2="80" y2="200.5" stroke="#111" stroke-width="1.0"/>
<text x="55" y="233.9" font-size="5.7" font-weight="bold" text-anchor="middle" fill="#141414" class="b" transform="rotate(0.03 55 233.9)">CTV</text>
<text x="11" y="189.5" font-size="5.7" font-weight="bold" text-anchor="middle" fill="#141414" class="b" transform="rotate(-89.97 11 189.5)">Count</text>
<defs><filter id="b1" x="-60%" y="-60%" width="220%" height="220%"><feGaussianBlur stdDeviation="1.0"/></filter><filter id="b2" x="-60%" y="-60%" width="220%" height="220%"><feGaussianBlur stdDeviation="2"/></filter><filter id="b0" x="-100%" y="-20%" width="300%" height="140%"><feGaussianBlur stdDeviation="0.45"/></filter><filter id="nz" x="0" y="0" width="100%" height="100%"><feTurbulence type="fractalNoise" baseFrequency="0.75" numOctaves="2" seed="7" result="t"/><feColorMatrix in="t" type="matrix" values="0 0 0 0 0 0 0 0 0 0 0 0 0 0 0 0 0 0 1.7 0.25" result="m"/><feComposite in="SourceGraphic" in2="m" operator="in"/></filter></defs>
<g filter="url(#nz)">
<ellipse cx="26.8" cy="305" rx="3.4" ry="10" fill="#000" opacity="0.2" filter="url(#b1)"/>
<ellipse cx="26.5" cy="308" rx="2.9" ry="6" fill="#000" opacity="0.4" filter="url(#b1)"/>
<ellipse cx="26.4" cy="308.3" rx="1.5" ry="4" fill="#000" opacity="0.25" filter="url(#b1)"/>
<ellipse cx="27.5" cy="295" rx="2.6" ry="5" fill="#000" opacity="0.17" filter="url(#b1)"/>
<ellipse cx="41" cy="307" rx="6" ry="3" fill="#000" opacity="0.04" filter="url(#b2)"/>
</g>
<rect x="15.15" y="278.3" width="46.05" height="45.4" fill="none" stroke="#262626" stroke-width="1.05"/>
<line x1="33.3" y1="278.3" x2="33.3" y2="323.7" stroke="#333" stroke-width="0.95"/>
<line x1="15.15" y1="301.7" x2="61.2" y2="301.7" stroke="#262626" stroke-width="0.95"/>
<line x1="13.95" y1="282.84" x2="15.15" y2="282.84" stroke="#222" stroke-width="0.45"/>
<line x1="19.76" y1="323.7" x2="19.76" y2="324.9" stroke="#222" stroke-width="0.45"/>
<line x1="13.95" y1="287.38" x2="15.15" y2="287.38" stroke="#222" stroke-width="0.45"/>
<line x1="24.36" y1="323.7" x2="24.36" y2="324.9" stroke="#222" stroke-width="0.45"/>
<line x1="13.95" y1="291.92" x2="15.15" y2="291.92" stroke="#222" stroke-width="0.45"/>
<line x1="28.97" y1="323.7" x2="28.97" y2="324.9" stroke="#222" stroke-width="0.45"/>
<line x1="13.95" y1="296.46" x2="15.15" y2="296.46" stroke="#222" stroke-width="0.45"/>
<line x1="33.57" y1="323.7" x2="33.57" y2="324.9" stroke="#222" stroke-width="0.45"/>
<line x1="13.95" y1="301" x2="15.15" y2="301" stroke="#222" stroke-width="0.45"/>
<line x1="38.18" y1="323.7" x2="38.18" y2="324.9" stroke="#222" stroke-width="0.45"/>
<line x1="13.95" y1="305.54" x2="15.15" y2="305.54" stroke="#222" stroke-width="0.45"/>
<line x1="42.78" y1="323.7" x2="42.78" y2="324.9" stroke="#222" stroke-width="0.45"/>
<line x1="13.95" y1="310.08" x2="15.15" y2="310.08" stroke="#222" stroke-width="0.45"/>
<line x1="47.38" y1="323.7" x2="47.38" y2="324.9" stroke="#222" stroke-width="0.45"/>
<line x1="13.95" y1="314.62" x2="15.15" y2="314.62" stroke="#222" stroke-width="0.45"/>
<line x1="51.99" y1="323.7" x2="51.99" y2="324.9" stroke="#222" stroke-width="0.45"/>
<line x1="13.95" y1="319.16" x2="15.15" y2="319.16" stroke="#222" stroke-width="0.45"/>
<line x1="56.6" y1="323.7" x2="56.6" y2="324.9" stroke="#222" stroke-width="0.45"/>
<text x="16.55" y="281.9" font-size="2.2" font-weight="bold" fill="#333" transform="rotate(0.03 16.55 281.9)">Q1</text>
<text x="16.55" y="284.8" font-size="2.2" font-weight="bold" fill="#333" transform="rotate(0.03 16.55 284.8)">0.13</text>
<text x="57.3" y="281.9" font-size="2.2" font-weight="bold" text-anchor="end" fill="#333" transform="rotate(0.03 57.3 281.9)">Q2</text>
<text x="57.3" y="284.8" font-size="2.2" font-weight="bold" text-anchor="end" fill="#333" transform="rotate(0.03 57.3 284.8)">0.25</text>
<text x="16.55" y="318.8" font-size="2.2" font-weight="bold" fill="#333" transform="rotate(0.03 16.55 318.8)">Q4</text>
<text x="16.55" y="321.7" font-size="2.2" font-weight="bold" fill="#333" transform="rotate(0.03 16.55 321.7)">77.6</text>
<text x="57.3" y="318.8" font-size="2.2" font-weight="bold" text-anchor="end" fill="#333" transform="rotate(0.03 57.3 318.8)">Q3</text>
<text x="57.3" y="321.7" font-size="2.2" font-weight="bold" text-anchor="end" fill="#333" transform="rotate(0.03 57.3 321.7)">22.0</text>
<g filter="url(#nz)">
<ellipse cx="75.1" cy="310.6" rx="2" ry="3.6" fill="#000" opacity="0.45" filter="url(#b1)"/>
<ellipse cx="75.1" cy="310.6" rx="3.2" ry="5.2" fill="#000" opacity="0.13" filter="url(#b2)"/>
<ellipse cx="93.8" cy="309.8" rx="9" ry="5" fill="#000" opacity="0.32" filter="url(#b2)"/>
<ellipse cx="94.2" cy="309" rx="5.8" ry="3.4" fill="#000" opacity="0.45" filter="url(#b1)"/>
<ellipse cx="95" cy="308.8" rx="3" ry="1.9" fill="#000" opacity="0.45" filter="url(#b1)"/>
<ellipse cx="91" cy="293" rx="6" ry="3.5" fill="#000" opacity="0.07" filter="url(#b2)"/>
<ellipse cx="76" cy="293" rx="3.5" ry="3" fill="#000" opacity="0.06" filter="url(#b2)"/>
</g>
<rect x="63.9" y="278.3" width="45.75" height="45.4" fill="none" stroke="#262626" stroke-width="1.05"/>
<line x1="82.1" y1="278.3" x2="82.1" y2="323.7" stroke="#333" stroke-width="0.95"/>
<line x1="63.9" y1="301.6" x2="109.65" y2="301.6" stroke="#262626" stroke-width="0.95"/>
<line x1="62.7" y1="282.84" x2="63.9" y2="282.84" stroke="#222" stroke-width="0.45"/>
<line x1="68.47" y1="323.7" x2="68.47" y2="324.9" stroke="#222" stroke-width="0.45"/>
<line x1="62.7" y1="287.38" x2="63.9" y2="287.38" stroke="#222" stroke-width="0.45"/>
<line x1="73.05" y1="323.7" x2="73.05" y2="324.9" stroke="#222" stroke-width="0.45"/>
<line x1="62.7" y1="291.92" x2="63.9" y2="291.92" stroke="#222" stroke-width="0.45"/>
<line x1="77.62" y1="323.7" x2="77.62" y2="324.9" stroke="#222" stroke-width="0.45"/>
<line x1="62.7" y1="296.46" x2="63.9" y2="296.46" stroke="#222" stroke-width="0.45"/>
<line x1="82.2" y1="323.7" x2="82.2" y2="324.9" stroke="#222" stroke-width="0.45"/>
<line x1="62.7" y1="301" x2="63.9" y2="301" stroke="#222" stroke-width="0.45"/>
<line x1="86.78" y1="323.7" x2="86.78" y2="324.9" stroke="#222" stroke-width="0.45"/>
<line x1="62.7" y1="305.54" x2="63.9" y2="305.54" stroke="#222" stroke-width="0.45"/>
<line x1="91.35" y1="323.7" x2="91.35" y2="324.9" stroke="#222" stroke-width="0.45"/>
<line x1="62.7" y1="310.08" x2="63.9" y2="310.08" stroke="#222" stroke-width="0.45"/>
<line x1="95.93" y1="323.7" x2="95.93" y2="324.9" stroke="#222" stroke-width="0.45"/>
<line x1="62.7" y1="314.62" x2="63.9" y2="314.62" stroke="#222" stroke-width="0.45"/>
<line x1="100.5" y1="323.7" x2="100.5" y2="324.9" stroke="#222" stroke-width="0.45"/>
<line x1="62.7" y1="319.16" x2="63.9" y2="319.16" stroke="#222" stroke-width="0.45"/>
<line x1="105.08" y1="323.7" x2="105.08" y2="324.9" stroke="#222" stroke-width="0.45"/>
<text x="65.3" y="281.9" font-size="2.2" font-weight="bold" fill="#333" transform="rotate(0.03 65.3 281.9)">Q1</text>
<text x="65.3" y="284.8" font-size="2.2" font-weight="bold" fill="#333" transform="rotate(0.03 65.3 284.8)">0.41</text>
<text x="105.75" y="281.9" font-size="2.2" font-weight="bold" text-anchor="end" fill="#333" transform="rotate(0.03 105.75 281.9)">Q2</text>
<text x="105.75" y="284.8" font-size="2.2" font-weight="bold" text-anchor="end" fill="#333" transform="rotate(0.03 105.75 284.8)">4.27</text>
<text x="65.3" y="318.8" font-size="2.2" font-weight="bold" fill="#333" transform="rotate(0.03 65.3 318.8)">Q4</text>
<text x="65.3" y="321.7" font-size="2.2" font-weight="bold" fill="#333" transform="rotate(0.03 65.3 321.7)">16.5</text>
<text x="105.75" y="318.8" font-size="2.2" font-weight="bold" text-anchor="end" fill="#333" transform="rotate(0.03 105.75 318.8)">Q3</text>
<text x="105.75" y="321.7" font-size="2.2" font-weight="bold" text-anchor="end" fill="#333" transform="rotate(0.03 105.75 321.7)">78.8</text>
<ellipse cx="27" cy="357" rx="0.7" ry="17" fill="#000" opacity="0.6" filter="url(#b0)"/>
<ellipse cx="27.05" cy="360" rx="0.65" ry="11" fill="#000" opacity="0.55" filter="url(#b0)"/>
<g filter="url(#nz)">
<ellipse cx="37" cy="346" rx="4" ry="6" fill="#000" opacity="0.05" filter="url(#b2)"/>
<ellipse cx="40" cy="364" rx="4" ry="6" fill="#000" opacity="0.04" filter="url(#b2)"/>
</g>
<rect x="15.2" y="333.5" width="45.8" height="44.8" fill="none" stroke="#262626" stroke-width="1.05"/>
<line x1="28.8" y1="333.5" x2="28.8" y2="378.3" stroke="#333" stroke-width="0.95"/>
<line x1="15.2" y1="356.4" x2="61" y2="356.4" stroke="#262626" stroke-width="0.95"/>
<line x1="14" y1="337.98" x2="15.2" y2="337.98" stroke="#222" stroke-width="0.45"/>
<line x1="19.78" y1="378.3" x2="19.78" y2="379.5" stroke="#222" stroke-width="0.45"/>
<line x1="14" y1="342.46" x2="15.2" y2="342.46" stroke="#222" stroke-width="0.45"/>
<line x1="24.36" y1="378.3" x2="24.36" y2="379.5" stroke="#222" stroke-width="0.45"/>
<line x1="14" y1="346.94" x2="15.2" y2="346.94" stroke="#222" stroke-width="0.45"/>
<line x1="28.94" y1="378.3" x2="28.94" y2="379.5" stroke="#222" stroke-width="0.45"/>
<line x1="14" y1="351.42" x2="15.2" y2="351.42" stroke="#222" stroke-width="0.45"/>
<line x1="33.52" y1="378.3" x2="33.52" y2="379.5" stroke="#222" stroke-width="0.45"/>
<line x1="14" y1="355.9" x2="15.2" y2="355.9" stroke="#222" stroke-width="0.45"/>
<line x1="38.1" y1="378.3" x2="38.1" y2="379.5" stroke="#222" stroke-width="0.45"/>
<line x1="14" y1="360.38" x2="15.2" y2="360.38" stroke="#222" stroke-width="0.45"/>
<line x1="42.68" y1="378.3" x2="42.68" y2="379.5" stroke="#222" stroke-width="0.45"/>
<line x1="14" y1="364.86" x2="15.2" y2="364.86" stroke="#222" stroke-width="0.45"/>
<line x1="47.26" y1="378.3" x2="47.26" y2="379.5" stroke="#222" stroke-width="0.45"/>
<line x1="14" y1="369.34" x2="15.2" y2="369.34" stroke="#222" stroke-width="0.45"/>
<line x1="51.84" y1="378.3" x2="51.84" y2="379.5" stroke="#222" stroke-width="0.45"/>
<line x1="14" y1="373.82" x2="15.2" y2="373.82" stroke="#222" stroke-width="0.45"/>
<line x1="56.42" y1="378.3" x2="56.42" y2="379.5" stroke="#222" stroke-width="0.45"/>
<text x="16.6" y="337.1" font-size="2.2" font-weight="bold" fill="#333" transform="rotate(0.03 16.6 337.1)">Q1</text>
<text x="16.6" y="340" font-size="2.2" font-weight="bold" fill="#333" transform="rotate(0.03 16.6 340)">8.45</text>
<text x="57.1" y="337.1" font-size="2.2" font-weight="bold" text-anchor="end" fill="#333" transform="rotate(0.03 57.1 337.1)">Q2</text>
<text x="57.1" y="340" font-size="2.2" font-weight="bold" text-anchor="end" fill="#333" transform="rotate(0.03 57.1 340)">0.42</text>
<text x="16.6" y="373.4" font-size="2.2" font-weight="bold" fill="#333" transform="rotate(0.03 16.6 373.4)">Q4</text>
<text x="16.6" y="376.3" font-size="2.2" font-weight="bold" fill="#333" transform="rotate(0.03 16.6 376.3)">90.9</text>
<text x="57.1" y="373.4" font-size="2.2" font-weight="bold" text-anchor="end" fill="#333" transform="rotate(0.03 57.1 373.4)">Q3</text>
<text x="57.1" y="376.3" font-size="2.2" font-weight="bold" text-anchor="end" fill="#333" transform="rotate(0.03 57.1 376.3)">0.27</text>
<ellipse cx="75.4" cy="357" rx="0.5" ry="15" fill="#000" opacity="0.3" filter="url(#b0)"/>
<ellipse cx="75.4" cy="367" rx="0.6" ry="5" fill="#000" opacity="0.6" filter="url(#b0)"/>
<g filter="url(#nz)">
<ellipse cx="89" cy="366.5" rx="9" ry="9" fill="#000" opacity="0.36" filter="url(#b2)"/>
<ellipse cx="86.5" cy="367" rx="3.5" ry="6" fill="#000" opacity="0.14" filter="url(#b1)"/>
<ellipse cx="91.3" cy="366.3" rx="4.4" ry="7.8" fill="#000" opacity="0.75" filter="url(#b1)"/>
<ellipse cx="91.6" cy="366.5" rx="3" ry="5.8" fill="#000" opacity="0.9" filter="url(#b1)"/>
<ellipse cx="88" cy="349" rx="6" ry="6" fill="#000" opacity="0.13" filter="url(#b2)"/>
<ellipse cx="90" cy="355" rx="5" ry="4" fill="#000" opacity="0.1" filter="url(#b2)"/>
</g>
<rect x="63.9" y="333.5" width="45.75" height="45.1" fill="none" stroke="#262626" stroke-width="1.05"/>
<line x1="77.5" y1="333.5" x2="77.5" y2="378.6" stroke="#333" stroke-width="0.95"/>
<line x1="63.9" y1="356.6" x2="109.65" y2="356.6" stroke="#262626" stroke-width="0.95"/>
<line x1="62.7" y1="338.01" x2="63.9" y2="338.01" stroke="#222" stroke-width="0.45"/>
<line x1="68.47" y1="378.6" x2="68.47" y2="379.8" stroke="#222" stroke-width="0.45"/>
<line x1="62.7" y1="342.52" x2="63.9" y2="342.52" stroke="#222" stroke-width="0.45"/>
<line x1="73.05" y1="378.6" x2="73.05" y2="379.8" stroke="#222" stroke-width="0.45"/>
<line x1="62.7" y1="347.03" x2="63.9" y2="347.03" stroke="#222" stroke-width="0.45"/>
<line x1="77.62" y1="378.6" x2="77.62" y2="379.8" stroke="#222" stroke-width="0.45"/>
<line x1="62.7" y1="351.54" x2="63.9" y2="351.54" stroke="#222" stroke-width="0.45"/>
<line x1="82.2" y1="378.6" x2="82.2" y2="379.8" stroke="#222" stroke-width="0.45"/>
<line x1="62.7" y1="356.05" x2="63.9" y2="356.05" stroke="#222" stroke-width="0.45"/>
<line x1="86.78" y1="378.6" x2="86.78" y2="379.8" stroke="#222" stroke-width="0.45"/>
<line x1="62.7" y1="360.56" x2="63.9" y2="360.56" stroke="#222" stroke-width="0.45"/>
<line x1="91.35" y1="378.6" x2="91.35" y2="379.8" stroke="#222" stroke-width="0.45"/>
<line x1="62.7" y1="365.07" x2="63.9" y2="365.07" stroke="#222" stroke-width="0.45"/>
<line x1="95.93" y1="378.6" x2="95.93" y2="379.8" stroke="#222" stroke-width="0.45"/>
<line x1="62.7" y1="369.58" x2="63.9" y2="369.58" stroke="#222" stroke-width="0.45"/>
<line x1="100.5" y1="378.6" x2="100.5" y2="379.8" stroke="#222" stroke-width="0.45"/>
<line x1="62.7" y1="374.09" x2="63.9" y2="374.09" stroke="#222" stroke-width="0.45"/>
<line x1="105.08" y1="378.6" x2="105.08" y2="379.8" stroke="#222" stroke-width="0.45"/>
<text x="65.3" y="337.1" font-size="2.2" font-weight="bold" fill="#333" transform="rotate(0.03 65.3 337.1)">Q1</text>
<text x="65.3" y="340" font-size="2.2" font-weight="bold" fill="#333" transform="rotate(0.03 65.3 340)">0.71</text>
<text x="105.75" y="337.1" font-size="2.2" font-weight="bold" text-anchor="end" fill="#333" transform="rotate(0.03 105.75 337.1)">Q2</text>
<text x="105.75" y="340" font-size="2.2" font-weight="bold" text-anchor="end" fill="#333" transform="rotate(0.03 105.75 340)">5.90</text>
<text x="65.3" y="373.7" font-size="2.2" font-weight="bold" fill="#333" transform="rotate(0.03 65.3 373.7)">Q4</text>
<text x="65.3" y="376.6" font-size="2.2" font-weight="bold" fill="#333" transform="rotate(0.03 65.3 376.6)">5.47</text>
<text x="105.75" y="373.7" font-size="2.2" font-weight="bold" text-anchor="end" fill="#333" transform="rotate(0.03 105.75 373.7)">Q3</text>
<text x="105.75" y="376.6" font-size="2.2" font-weight="bold" text-anchor="end" fill="#333" transform="rotate(0.03 105.75 376.6)">88.1</text>
<text x="38.1" y="274.7" font-size="5.65" text-anchor="middle" fill="#141414" class="n" transform="rotate(0.03 38.1 274.7)">T cells + active EC</text>
<text x="87.3" y="274.7" font-size="5.65" text-anchor="middle" fill="#141414" class="n" transform="rotate(0.03 87.3 274.7)">T cells + Beads</text>
<text x="62.3" y="330.9" font-size="5.7" text-anchor="middle" fill="#141414" class="n" transform="rotate(0.03 62.3 330.9)">CD25</text>
<text x="61.7" y="385.8" font-size="5.7" text-anchor="middle" fill="#141414" class="n" transform="rotate(0.03 61.7 385.8)">Ki67</text>
<text x="11.1" y="300.5" font-size="5.7" text-anchor="middle" fill="#141414" class="n" transform="rotate(-89.97 11.1 300.5)">CD69</text>
<text x="11.1" y="355.5" font-size="5.7" text-anchor="middle" fill="#141414" class="n" transform="rotate(-89.97 11.1 355.5)">CD69</text>
<rect x="147.5" y="351.07" width="6.6" height="1.03" fill="#4b4b4d"/>
<line x1="162.4" y1="350.17" x2="162.4" y2="349.49" stroke="#e7777e" stroke-width="0.9"/>
<line x1="160.3" y1="349.49" x2="164.5" y2="349.49" stroke="#e7777e" stroke-width="0.9"/>
<rect x="159.35" y="350.42" width="6.1" height="1.68" fill="#f3979b" stroke="#e7777e" stroke-width="0.5"/>
<line x1="173.4" y1="347.42" x2="173.4" y2="346.46" stroke="#a5151e" stroke-width="0.9"/>
<line x1="171.3" y1="346.46" x2="175.5" y2="346.46" stroke="#a5151e" stroke-width="0.9"/>
<rect x="170.35" y="347.67" width="6.1" height="4.43" fill="#c1202a" stroke="#a5151e" stroke-width="0.5"/>
<line x1="184.1" y1="301.19" x2="184.1" y2="297.06" stroke="#2e2e2e" stroke-width="0.9"/>
<line x1="182" y1="297.06" x2="186.2" y2="297.06" stroke="#2e2e2e" stroke-width="0.9"/>
<rect x="181.05" y="301.44" width="6.1" height="50.66" fill="#0b0b0b" stroke="#2e2e2e" stroke-width="0.5"/>
<line x1="144.2" y1="282.9" x2="144.2" y2="352.6" stroke="#222" stroke-width="1.0"/>
<line x1="143.7" y1="352.1" x2="191.6" y2="352.1" stroke="#222" stroke-width="1.0"/>
<line x1="142" y1="352.1" x2="144.2" y2="352.1" stroke="#222" stroke-width="0.8"/>
<text x="141.5" y="354.05" font-size="5.3" font-weight="bold" text-anchor="end" fill="#141414" class="b" transform="rotate(0.03 141.5 354.05)">0</text>
<line x1="142" y1="338.34" x2="144.2" y2="338.34" stroke="#222" stroke-width="0.8"/>
<text x="141.5" y="340.29" font-size="5.3" font-weight="bold" text-anchor="end" fill="#141414" class="b" transform="rotate(0.03 141.5 340.29)">20</text>
<line x1="142" y1="324.58" x2="144.2" y2="324.58" stroke="#222" stroke-width="0.8"/>
<text x="141.5" y="326.53" font-size="5.3" font-weight="bold" text-anchor="end" fill="#141414" class="b" transform="rotate(0.03 141.5 326.53)">40</text>
<line x1="142" y1="310.82" x2="144.2" y2="310.82" stroke="#222" stroke-width="0.8"/>
<text x="141.5" y="312.77" font-size="5.3" font-weight="bold" text-anchor="end" fill="#141414" class="b" transform="rotate(0.03 141.5 312.77)">60</text>
<line x1="142" y1="297.06" x2="144.2" y2="297.06" stroke="#222" stroke-width="0.8"/>
<text x="141.5" y="299.01" font-size="5.3" font-weight="bold" text-anchor="end" fill="#141414" class="b" transform="rotate(0.03 141.5 299.01)">80</text>
<line x1="142" y1="283.3" x2="144.2" y2="283.3" stroke="#222" stroke-width="0.8"/>
<text x="141.5" y="285.25" font-size="5.3" font-weight="bold" text-anchor="end" fill="#141414" class="b" transform="rotate(0.03 141.5 285.25)">100</text>
<line x1="150.8" y1="352.1" x2="150.8" y2="353.8" stroke="#222" stroke-width="0.7"/>
<text x="154.1" y="357.1" font-size="5.5" font-weight="bold" text-anchor="end" fill="#141414" class="b" transform="rotate(-45 154.1 357.1)">T only</text>
<line x1="162.4" y1="352.1" x2="162.4" y2="353.8" stroke="#222" stroke-width="0.7"/>
<text x="165.7" y="357.1" font-size="5.5" font-weight="bold" text-anchor="end" fill="#141414" class="b" transform="rotate(-45 165.7 357.1)">Resting EC</text>
<line x1="173.4" y1="352.1" x2="173.4" y2="353.8" stroke="#222" stroke-width="0.7"/>
<text x="176.7" y="357.1" font-size="5.5" font-weight="bold" text-anchor="end" fill="#141414" class="b" transform="rotate(-45 176.7 357.1)">Activated EC</text>
<line x1="184.1" y1="352.1" x2="184.1" y2="353.8" stroke="#222" stroke-width="0.7"/>
<text x="187.4" y="357.1" font-size="5.5" font-weight="bold" text-anchor="end" fill="#141414" class="b" transform="rotate(-45 187.4 357.1)">Beads</text>
<text x="168.8" y="276" font-size="7.2" font-weight="bold" text-anchor="middle" fill="#141414" class="b" transform="rotate(0.03 168.8 276)">CD25</text>
<text x="130.2" y="317.6" font-size="5.6" font-weight="bold" text-anchor="middle" fill="#141414" class="b" transform="rotate(-89.97 130.2 317.6)">%CD25+ cells</text>
<line x1="152.2" y1="289.4" x2="184.5" y2="289.4" stroke="#444" stroke-width="0.7"/>
<text x="168" y="290.1" font-size="7.4" font-weight="bold" text-anchor="middle" fill="#1a1a1a" class="b" transform="rotate(0.03 168 290.1)">*</text>
<line x1="162" y1="294.4" x2="184.5" y2="294.4" stroke="#444" stroke-width="0.7"/>
<text x="173.3" y="295.1" font-size="7.4" font-weight="bold" text-anchor="middle" fill="#1a1a1a" class="b" transform="rotate(0.03 173.3 295.1)" letter-spacing="0.7">**</text>
<rect x="232" y="351.89" width="6.6" height="0.41" fill="#4b4b4d"/>
<rect x="243" y="351.95" width="6.6" height="0.34" fill="#f3979b"/>
<line x1="257.35" y1="345.54" x2="257.35" y2="343.47" stroke="#a5151e" stroke-width="0.9"/>
<line x1="255.25" y1="343.47" x2="259.45" y2="343.47" stroke="#a5151e" stroke-width="0.9"/>
<rect x="254.3" y="345.79" width="6.1" height="6.51" fill="#c1202a" stroke="#a5151e" stroke-width="0.5"/>
<line x1="268.4" y1="298.13" x2="268.4" y2="294" stroke="#2e2e2e" stroke-width="0.9"/>
<line x1="266.3" y1="294" x2="270.5" y2="294" stroke="#2e2e2e" stroke-width="0.9"/>
<rect x="265.35" y="298.38" width="6.1" height="53.91" fill="#0b0b0b" stroke="#2e2e2e" stroke-width="0.5"/>
<line x1="228.6" y1="282.9" x2="228.6" y2="352.8" stroke="#222" stroke-width="1.0"/>
<line x1="228.1" y1="352.3" x2="275.3" y2="352.3" stroke="#222" stroke-width="1.0"/>
<line x1="226.4" y1="352.3" x2="228.6" y2="352.3" stroke="#222" stroke-width="0.8"/>
<text x="225.9" y="354.25" font-size="5.3" font-weight="bold" text-anchor="end" fill="#141414" class="b" transform="rotate(0.03 225.9 354.25)">0</text>
<line x1="226.4" y1="338.5" x2="228.6" y2="338.5" stroke="#222" stroke-width="0.8"/>
<text x="225.9" y="340.45" font-size="5.3" font-weight="bold" text-anchor="end" fill="#141414" class="b" transform="rotate(0.03 225.9 340.45)">20</text>
<line x1="226.4" y1="324.7" x2="228.6" y2="324.7" stroke="#222" stroke-width="0.8"/>
<text x="225.9" y="326.65" font-size="5.3" font-weight="bold" text-anchor="end" fill="#141414" class="b" transform="rotate(0.03 225.9 326.65)">40</text>
<line x1="226.4" y1="310.9" x2="228.6" y2="310.9" stroke="#222" stroke-width="0.8"/>
<text x="225.9" y="312.85" font-size="5.3" font-weight="bold" text-anchor="end" fill="#141414" class="b" transform="rotate(0.03 225.9 312.85)">60</text>
<line x1="226.4" y1="297.1" x2="228.6" y2="297.1" stroke="#222" stroke-width="0.8"/>
<text x="225.9" y="299.05" font-size="5.3" font-weight="bold" text-anchor="end" fill="#141414" class="b" transform="rotate(0.03 225.9 299.05)">80</text>
<line x1="226.4" y1="283.3" x2="228.6" y2="283.3" stroke="#222" stroke-width="0.8"/>
<text x="225.9" y="285.25" font-size="5.3" font-weight="bold" text-anchor="end" fill="#141414" class="b" transform="rotate(0.03 225.9 285.25)">100</text>
<line x1="235.3" y1="352.3" x2="235.3" y2="354" stroke="#222" stroke-width="0.7"/>
<text x="238.6" y="357.3" font-size="5.5" font-weight="bold" text-anchor="end" fill="#141414" class="b" transform="rotate(-45 238.6 357.3)">T only</text>
<line x1="246.3" y1="352.3" x2="246.3" y2="354" stroke="#222" stroke-width="0.7"/>
<text x="249.6" y="357.3" font-size="5.5" font-weight="bold" text-anchor="end" fill="#141414" class="b" transform="rotate(-45 249.6 357.3)">Resting EC</text>
<line x1="257.35" y1="352.3" x2="257.35" y2="354" stroke="#222" stroke-width="0.7"/>
<text x="260.65" y="357.3" font-size="5.5" font-weight="bold" text-anchor="end" fill="#141414" class="b" transform="rotate(-45 260.65 357.3)">Activated EC</text>
<line x1="268.4" y1="352.3" x2="268.4" y2="354" stroke="#222" stroke-width="0.7"/>
<text x="271.7" y="357.3" font-size="5.5" font-weight="bold" text-anchor="end" fill="#141414" class="b" transform="rotate(-45 271.7 357.3)">Beads</text>
<text x="251.2" y="276" font-size="7.2" font-weight="bold" text-anchor="middle" fill="#141414" class="b" transform="rotate(0.03 251.2 276)">Ki67</text>
<text x="215.2" y="317.6" font-size="5.6" font-weight="bold" text-anchor="middle" fill="#141414" class="b" transform="rotate(-89.97 215.2 317.6)">% Ki67+ cells</text>
<line x1="236" y1="287.4" x2="268.5" y2="287.4" stroke="#444" stroke-width="0.7"/>
<text x="252.3" y="288.1" font-size="7.4" font-weight="bold" text-anchor="middle" fill="#1a1a1a" class="b" transform="rotate(0.03 252.3 288.1)" letter-spacing="0.7">**</text>
<line x1="246.5" y1="292.4" x2="268.5" y2="292.4" stroke="#444" stroke-width="0.7"/>
<text x="257" y="293.1" font-size="7.4" font-weight="bold" text-anchor="middle" fill="#1a1a1a" class="b" transform="rotate(0.03 257 293.1)">*</text>
</svg>
</body></html>
